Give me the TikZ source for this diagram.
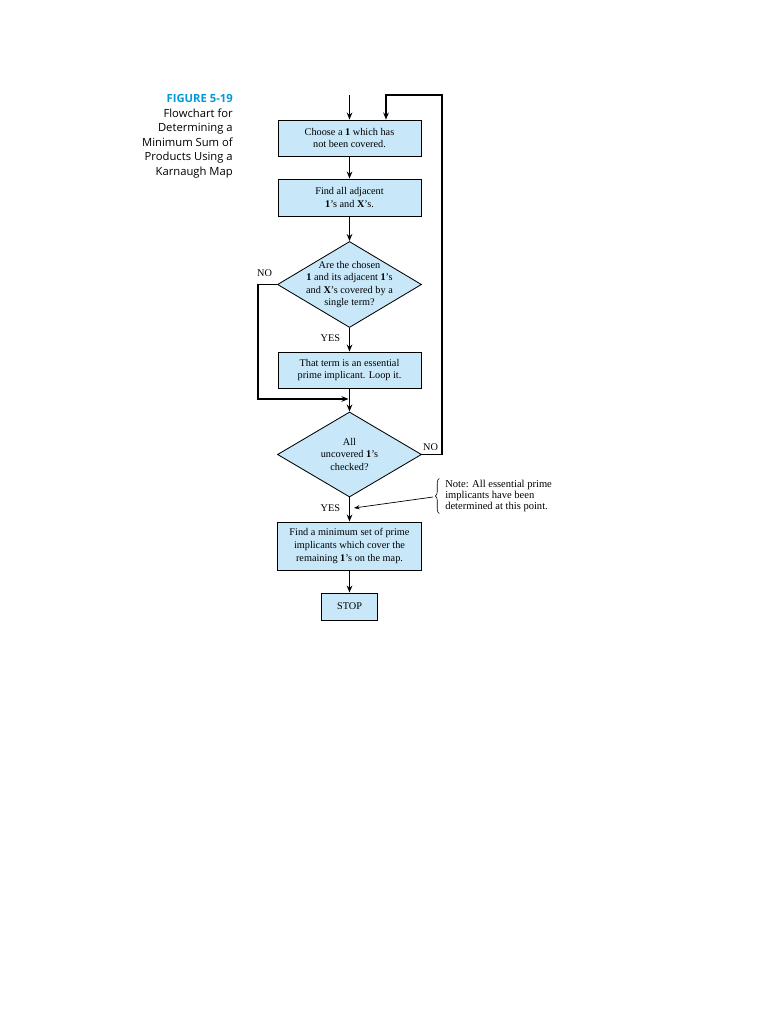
\documentclass[tikz,border=0pt]{standalone}
\usepackage{fontspec}
\setmainfont{Liberation Serif}
\newfontfamily\capfont{Open Sans}
\usetikzlibrary{shapes.geometric,arrows.meta,decorations.pathreplacing}
\definecolor{boxblue}{RGB}{200,232,250}
\definecolor{figblue}{RGB}{0,154,218}
\tikzset{
	stepbox/.style={draw, fill=boxblue, line width=0.6pt, minimum width=3.575cm, minimum height=0.9cm, align=center, inner sep=1pt, font=\fontsize{7.3}{9}\selectfont},
	testbox/.style={draw, fill=boxblue, line width=0.6pt, diamond, aspect=1.65, inner xsep=-7pt, inner ysep=-3pt, minimum width=3.6cm, minimum height=2.15cm, align=center, font=\fontsize{7.3}{8.6}\selectfont},
	flow/.style={line width=0.9pt, -{Stealth[length=5pt,width=4pt]}},
	tag/.style={font=\fontsize{7.3}{9}\selectfont}
}

\begin{document}
\begin{tikzpicture}[x=0.025cm, y=-0.025cm]
		%%%%% START %%%%%
		\useasboundingbox (0, 0) rectangle (768, 1024);
		
		\node[anchor=north east, align=right, inner sep=0pt, font=\capfont\fontsize{8}{10.4}\selectfont] (caption) at (233, 94)
			{\textcolor{figblue}{\bfseries FIGURE 5-19}\\Flowchart for\\Determining a\\Minimum Sum of\\Products Using a\\Karnaugh Map};
		
		\coordinate (entry) at (349.5, 95);
		\node[stepbox] (choose) at (349.5, 138) {Choose a \textbf{1} which has\\not been covered.};
		\node[stepbox, minimum height=0.925cm] (find) at (349.5, 197.5) {Find all adjacent\\\textbf{1}'s and \textbf{X}'s.};
		\node[testbox] (cover) at (349.5, 284.5) {Are the chosen\\\textbf{1} and its adjacent \textbf{1}'s\\and \textbf{X}'s covered by a\\single term?};
		\node[stepbox] (loopit) at (349.5, 370) {That term is an essential\\prime implicant. Loop it.};
		\node[testbox, minimum height=2.125cm] (checked) at (349.5, 454.5) {All\\uncovered \textbf{1}'s\\checked?};
		\node[stepbox, minimum width=3.6cm, minimum height=1.2cm] (minset) at (349.5, 546) {Find a minimum set of prime\\implicants which cover the\\remaining \textbf{1}'s on the map.};
		\node[stepbox, minimum width=1.4cm, minimum height=0.675cm] (stop) at (349.5, 606.5) {STOP};
		
		\draw[flow] (entry) -- (choose);
		\draw[flow] (choose) -- (find);
		\draw[flow] (find) -- (cover);
		\draw[flow] (cover) -- (loopit);
		\draw[flow] (loopit) -- (checked);
		\draw[flow] (checked) -- (minset);
		\draw[flow] (minset) -- (stop);
		
		% NO from the first test joins below the loop box
		\coordinate (merge) at (348.5, 399);
		\draw[flow] (cover.west) -- ++(-19, 0) |- (merge);
		\node[tag, anchor=south east] (nocover) at (277, 282) {NO};
		\node[tag, anchor=east] (yescover) at (345, 338) {YES};
		
		% NO from the second test goes back to the top
		\coordinate (backup) at (442, 95);
		\coordinate (reentry) at (386, 95);
		\draw[flow] (checked.east) -| (backup) -- (reentry) -- (reentry |- choose.north);
		\node[tag, anchor=south, inner sep=1pt] (nochecked) at (430.5, 452) {NO};
		\node[tag, anchor=east] (yeschecked) at (345, 508) {YES};
		
		% note with brace
		\node[tag, anchor=west, align=left, inner sep=0pt, font=\fontsize{7.5}{7.9}\selectfont] (note) at (445, 496) {Note: All essential prime\\implicants have been\\determined at this point.};
		\draw[line width=0.4pt, decorate, decoration={brace, amplitude=3pt}] ([xshift=-4pt, yshift=-1pt]note.south west) -- ([xshift=-4pt, yshift=1pt]note.north west);
		\coordinate (tip) at (433, 497);
		\coordinate (yespt) at (354, 508);
		\draw[line width=0.5pt, -{Stealth[length=4pt,width=3pt]}] (tip) -- (yespt);
		
		%%%%% END %%%%%
	\end{tikzpicture}
\end{document}
